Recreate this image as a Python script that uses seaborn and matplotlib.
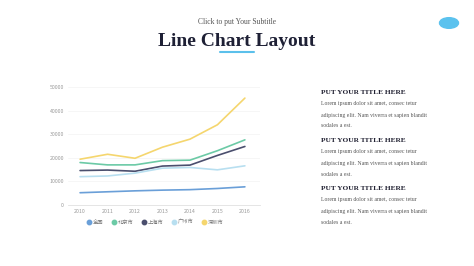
import matplotlib
matplotlib.use("Agg")
import matplotlib.pyplot as plt
import seaborn as sns
import pandas as pd
from matplotlib.lines import Line2D
from matplotlib.patches import Circle

sns.set_theme(style="white")
plt.rcParams['font.family'] = ['Noto Sans CJK SC', 'DejaVu Sans']

years = [2010, 2011, 2012, 2013, 2014, 2015, 2016]
series_names = ["全国", "北京市", "上海市", "广州市", "深圳市"]
quanguo = [5200, 5600, 6000, 6300, 6500, 7000, 7700]
beijing = [18000, 17000, 17000, 18800, 19000, 23000, 27600]
shanghai = [14600, 14800, 14300, 16500, 16900, 21000, 24800]
guangzhou = [12000, 12300, 13500, 15600, 15900, 14900, 16600]
shenzhen = [19400, 21500, 19800, 24500, 27900, 34000, 45300]
colors = ["#6a9fd8", "#6ccaa6", "#4b4f6e", "#b8dff0", "#f5d66e"]
y_ticks = [0, 10000, 20000, 30000, 40000, 50000]

values = [quanguo, beijing, shanghai, guangzhou, shenzhen]
rows = []
for name, vals in zip(series_names, values):
    for yr, v in zip(years, vals):
        rows.append({"year": yr, "value": v, "city": name})
df = pd.DataFrame(rows)

W, H = 474, 266
fig = plt.figure(figsize=(W / 100, H / 100), dpi=100)
fig.patch.set_facecolor("white")

ax = fig.add_axes([68 / W, 1 - 205 / H, 192 / W, 118 / H])
sns.lineplot(data=df, x="year", y="value", hue="city", palette=colors,
             hue_order=series_names, ax=ax, linewidth=1.2, legend=False)
ax.set_xlim(2009.56, 2016.55)
ax.set_ylim(0, 50000)
ax.set_xticks(years)
ax.set_xticklabels([str(y) for y in years])
ax.set_yticks(y_ticks)
ax.set_yticklabels([str(t) for t in y_ticks])
ax.tick_params(axis="both", labelsize=3.8, colors="#9a9a9a", length=0, pad=3)
ax.set_xlabel("")
ax.set_ylabel("")
for s in ["top", "right", "left"]:
    ax.spines[s].set_visible(False)
ax.spines["bottom"].set_color("#e0e0e0")
ax.spines["bottom"].set_linewidth(0.6)
ax.grid(axis="y", color="#f3f3f3", linewidth=0.5)
ax.set_axisbelow(True)

handles = [Line2D([0], [0], marker="o", linestyle="", markersize=3.2,
                  markerfacecolor=c, markeredgecolor=c) for c in colors]
leg = fig.legend(handles, series_names, loc="center", bbox_to_anchor=(155 / W, 1 - 222 / H),
                 ncol=5, frameon=False, fontsize=3.8, handletextpad=0.1, columnspacing=1.6,
                 handlelength=1.0)
for t in leg.get_texts():
    t.set_color("#777777")

# header
fig.text(237 / W, 1 - 22 / H, "Click to put Your Subtitle", ha="center", va="center",
         fontsize=5.5, color="#555555", family="Liberation Serif")
fig.text(237 / W, 1 - 41 / H, "Line Chart Layout", ha="center", va="center",
         fontsize=14, color="#1e2035", family="Liberation Serif", fontweight="bold")
fig.add_artist(Line2D([220 / W, 254 / W], [1 - 52 / H, 1 - 52 / H], color="#5bc0eb",
                      linewidth=1.5, transform=fig.transFigure))
fig.add_artist(Circle((449 / W, 1 - 23 / H), 9.5 / W, transform=fig.transFigure,
                      color="#5bc2ee"))

# right text blocks
body = ["Lorem ipsum dolor sit amet, consec tetur",
        "adipiscing elit. Nam viverra et sapien blandit",
        "sodales a est."]
for ty in [93, 141, 189]:
    fig.text(321 / W, 1 - ty / H, "PUT YOUR TITLE HERE", ha="left", va="center",
             fontsize=5.3, color="#222233", family="Liberation Serif", fontweight="bold")
    for i, line in enumerate(body):
        fig.text(321 / W, 1 - (ty + 11 + 11 * i) / H, line, ha="left", va="center",
                 fontsize=4.15, color="#555555", family="Liberation Serif")

fig.savefig("out.png", dpi=100)
